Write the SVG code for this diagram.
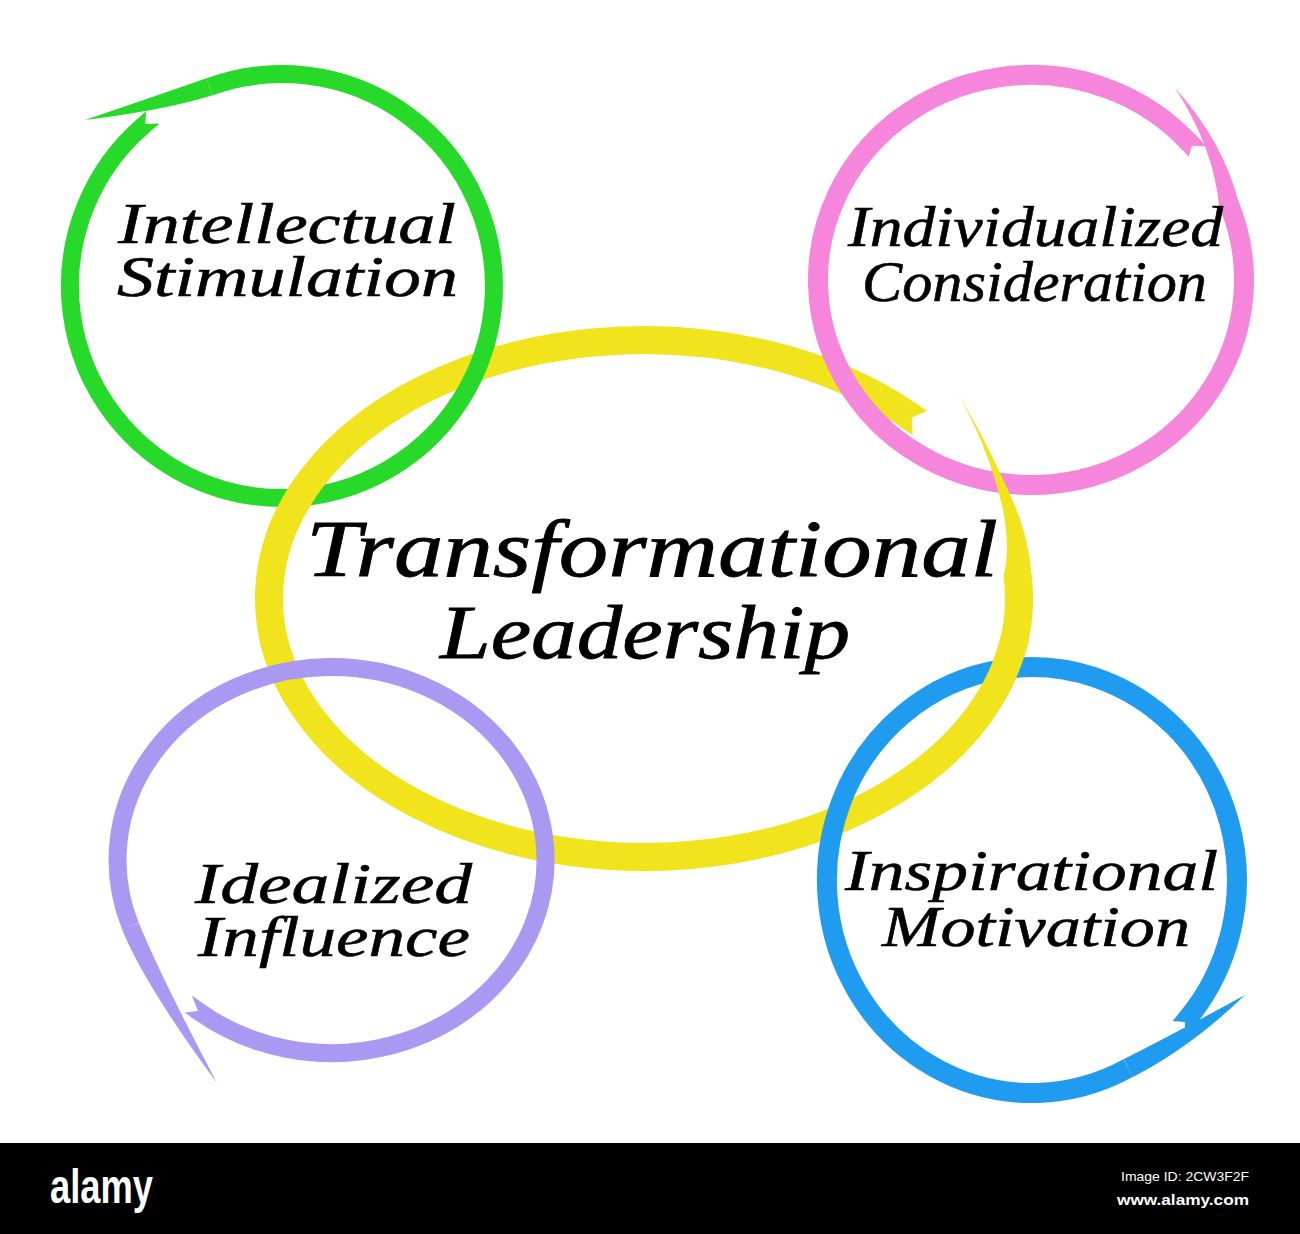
<svg xmlns="http://www.w3.org/2000/svg" xmlns:xlink="http://www.w3.org/1999/xlink" width="1300" height="1234" viewBox="0 0 1300 1234">
<style>
.band{fill:none;stroke-linecap:butt}
.lbl{font-family:"Liberation Serif","DejaVu Serif",serif;font-style:italic;fill:#000;stroke:#000;stroke-width:0.6;font-size:56px}
.big{font-size:80px;stroke-width:0.8}
.yel{stroke:#f1e31c}.yelf{fill:#f1e31c}
.grn{stroke:#27d928}.grnf{fill:#27d928}
.pnk{stroke:#f586dc}.pnkf{fill:#f586dc}
.pur{stroke:#a999f3}.purf{fill:#a999f3}
.blu{stroke:#1f9cf0}.bluf{fill:#1f9cf0}
.foot{font-family:"Liberation Sans Narrow","Liberation Sans",sans-serif;fill:#fff}
</style>
<defs>
<path id="yellowArc" class="band yel" stroke-width="28" d="M1017.6,576.0 A375,258.5 0 1 1 909.2,415.7"/>
<clipPath id="clipGreenCross"><rect x="250" y="470" width="100" height="60"/></clipPath>
<clipPath id="clipBlueCross"><rect x="975" y="640" width="70" height="60"/></clipPath>
</defs>
<rect width="1300" height="1234" fill="#fff"/>

<g id="node-transformational">
<use xlink:href="#yellowArc"/>
<polygon class="yelf" points="915.6,403.1 917.2,404.2 927.1,411.0 911.7,417.4 912.7,435.2 901.2,427.2 899.6,426.1"/>
</g>

<g id="node-intellectual">
<path class="band grn" stroke-width="18" d="M209.5,86.8 A212,212 0 1 1 142.9,126.0"/>
<polygon class="grnf" points="135.5,120.5 137.0,119.2 146.1,111.3 145.2,124.0 159.4,123.6 148.8,132.8 147.3,134.1"/>
<path class="grnf" d="M206.4,78.3 Q150,98 85,120 Q165,110 212.6,95.2 Z"/>
<text class="lbl" x="118" y="243" textLength="338" lengthAdjust="spacingAndGlyphs">Intellectual</text>
<text class="lbl" x="117" y="296" textLength="341" lengthAdjust="spacingAndGlyphs">Stimulation</text>
</g>

<g id="node-individualized">
<path class="band pnk" stroke-width="20" d="M1228.5,203.2 A213,205 0 1 1 1189.3,142.8"/>
<polygon class="pnkf" points="1195.3,134.6 1196.7,136.1 1206.3,146.3 1192.0,145.7 1188.7,156.8 1181.9,149.5 1180.5,148.0"/>
<path class="pnkf" d="M1237.8,199.5 Q1222,140 1175,88 Q1214,148 1219.2,207.0 Z"/>
<text class="lbl" x="848" y="246" textLength="375" lengthAdjust="spacingAndGlyphs">Individualized</text>
<text class="lbl" x="862" y="301" textLength="345" lengthAdjust="spacingAndGlyphs">Consideration</text>
</g>

<g id="node-idealized">
<path class="band pur" stroke-width="18" d="M199.7,1012.1 A214,193 0 1 0 130.4,926.0"/>
<polygon class="purf" points="196.1,1020.7 194.5,1019.5 184.7,1012.6 198.1,1010.9 191.8,995.5 204.9,1004.7 206.5,1005.9"/>
<path class="purf" d="M121.9,929.1 Q144.3,984.7 217,1083 Q159.5,973.9 138.9,922.9 Z"/>
<text class="lbl" x="195" y="903" textLength="277" lengthAdjust="spacingAndGlyphs">Idealized</text>
<text class="lbl" x="198" y="956" textLength="272" lengthAdjust="spacingAndGlyphs">Influence</text>
</g>

<g id="node-inspirational">
<path class="band blu" stroke-width="20" d="M1186.7,1019.7 A205,213 0 1 0 1128.2,1068.1"/>
<polygon class="bluf" points="1195.7,1024.6 1194.4,1026.1 1185.4,1036.8 1184.8,1022.0 1172.6,1021.0 1179.0,1013.3 1180.3,1011.8"/>
<path class="bluf" d="M1132.9,1076.9 Q1190,1048 1245,995 Q1170,1036 1123.6,1059.2 Z"/>
<text class="lbl" x="845" y="890" textLength="373" lengthAdjust="spacingAndGlyphs">Inspirational</text>
<text class="lbl" x="882" y="946" textLength="308" lengthAdjust="spacingAndGlyphs">Motivation</text>
</g>

<g id="node-transformational-front">
<path class="yelf" d="M1031.9,583 L1031.5,574.7 C1029,545 1022,520 1008,490 C992,455 975,420 953,387 C975,420 994,468 1003,510 C1010,545 1006,565 1003.6,577.2 L1003.9,584 Z"/>
<use xlink:href="#yellowArc" clip-path="url(#clipGreenCross)"/>
<use xlink:href="#yellowArc" clip-path="url(#clipBlueCross)"/>
<text class="lbl big" x="306" y="576" textLength="692" lengthAdjust="spacingAndGlyphs">Transformational</text>
<text class="lbl big" x="440" y="658" textLength="410" lengthAdjust="spacingAndGlyphs" style="font-size:76px">Leadership</text>
</g>

<g id="connectors"></g>

<g id="footer">
<rect x="0" y="1143" width="1300" height="91" fill="#000"/>
<text class="foot" x="50" y="1203" font-size="48" font-weight="bold" textLength="103" lengthAdjust="spacingAndGlyphs">alamy</text>
<text class="foot" x="1249" y="1181" font-size="13" text-anchor="end" textLength="128" lengthAdjust="spacingAndGlyphs">Image ID: 2CW3F2F</text>
<text class="foot" x="1249" y="1205" font-size="15" font-weight="bold" text-anchor="end" textLength="132" lengthAdjust="spacingAndGlyphs">www.alamy.com</text>
</g>
</svg>
